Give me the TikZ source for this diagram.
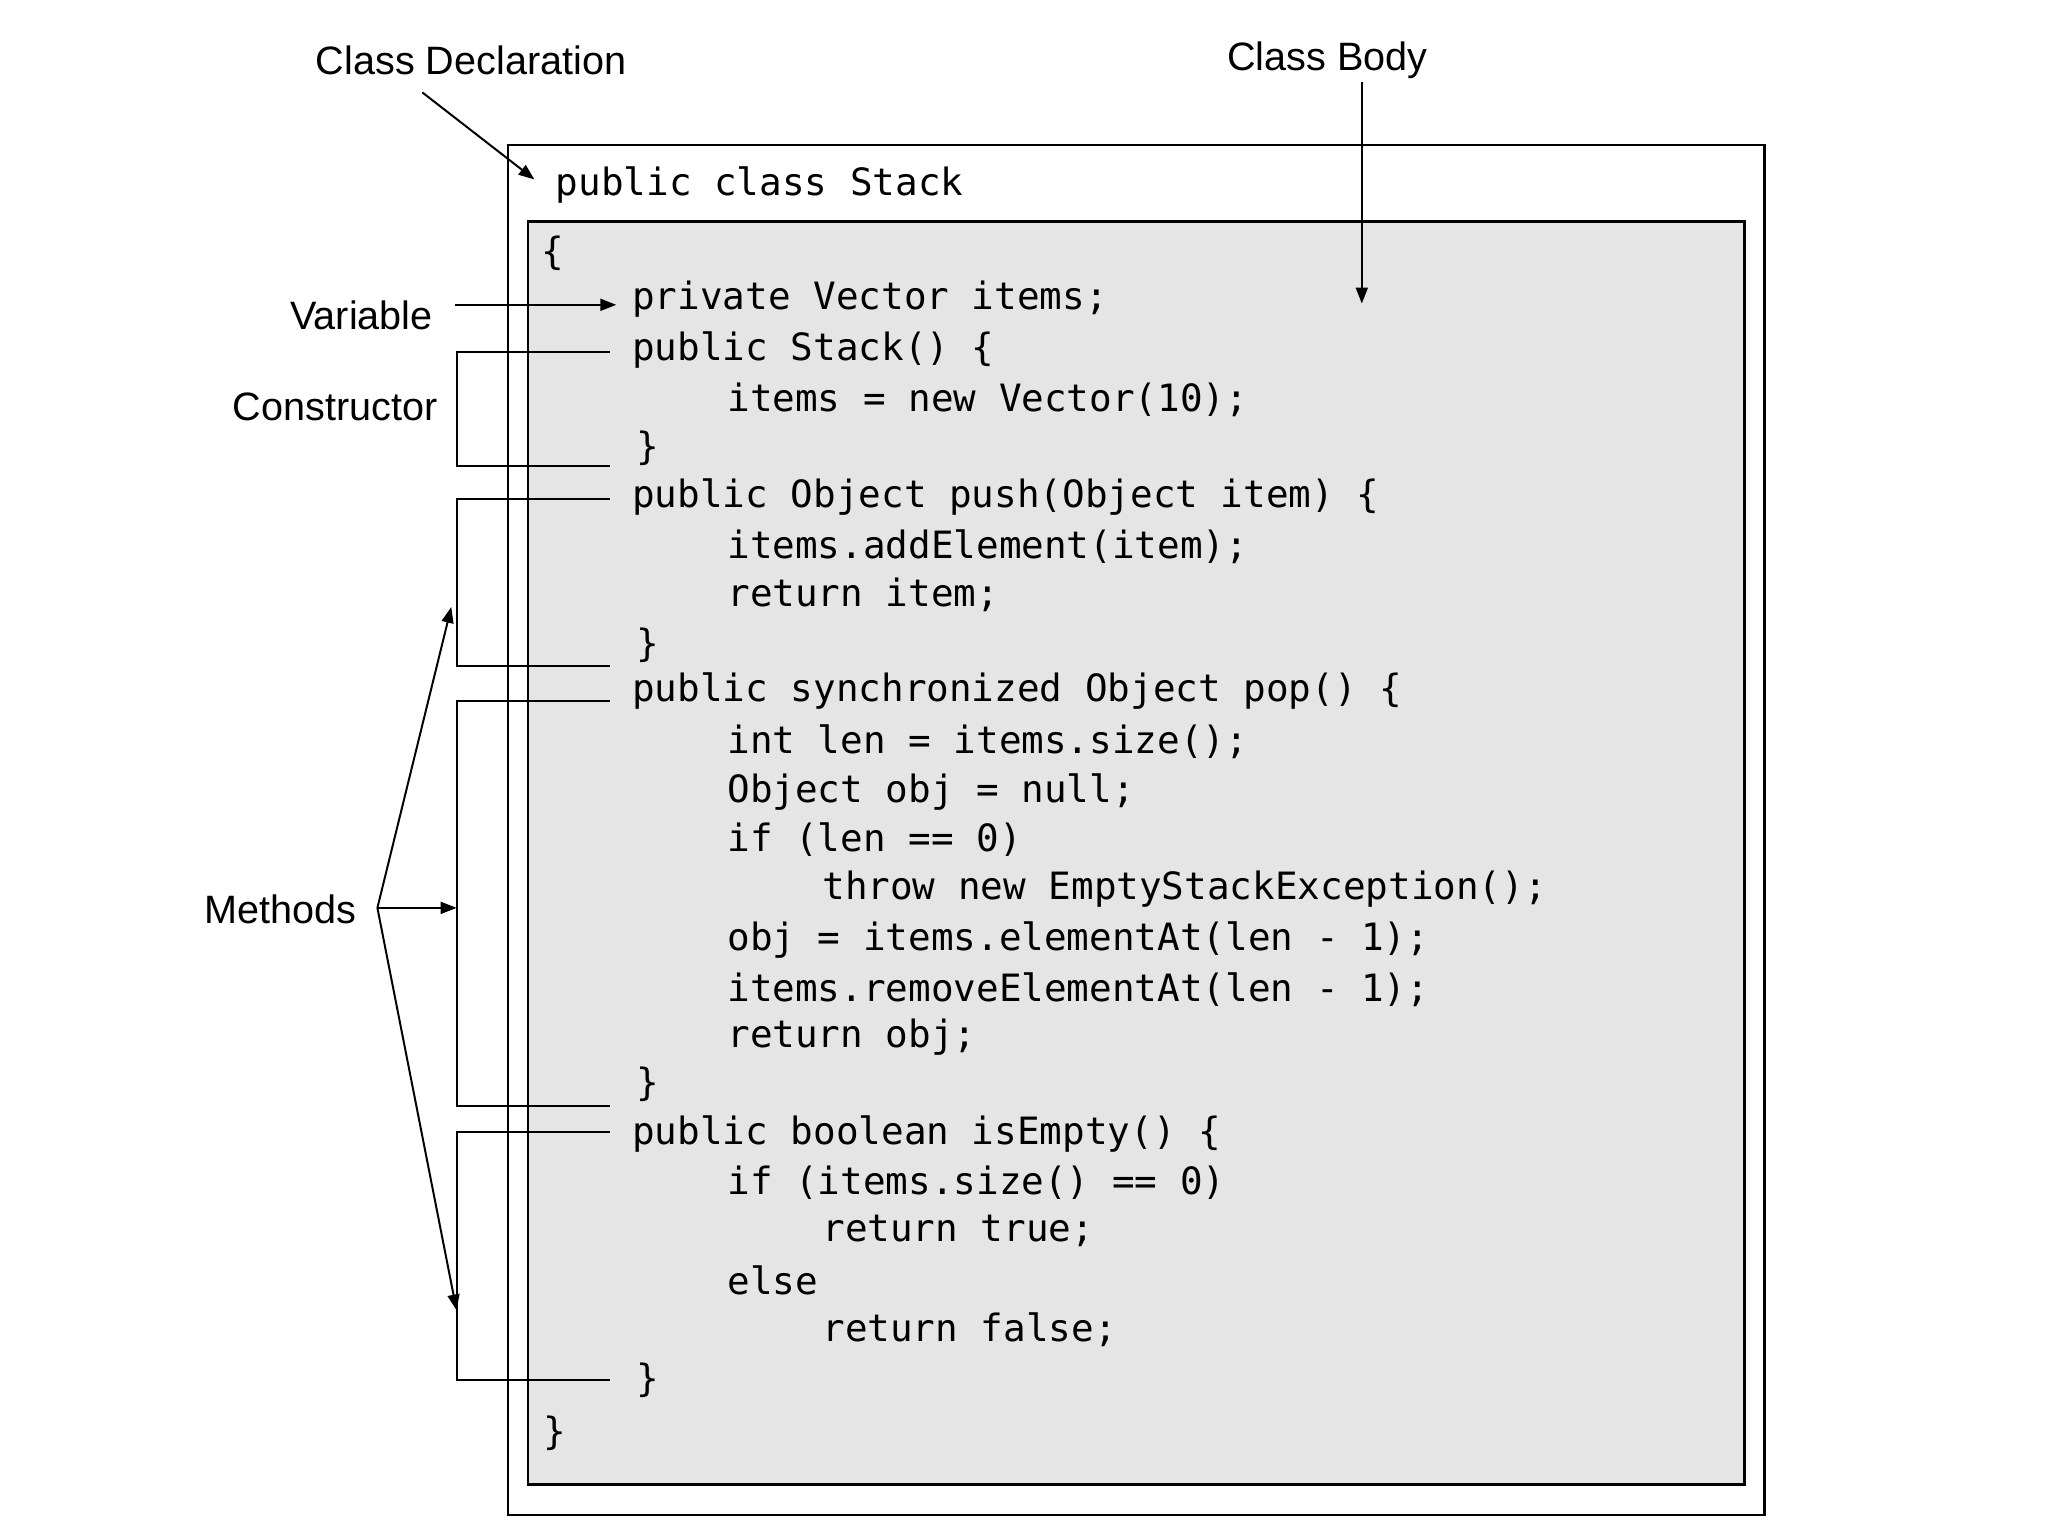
\documentclass[tikz,border=0pt]{standalone}
\usepackage{fontspec}
\setmainfont{Liberation Sans}
\newfontfamily\codefont{DejaVu Sans Mono}
\usetikzlibrary{arrows.meta}
\begin{document}
\begin{tikzpicture}[x=1pt,y=-1pt,
  lbl/.style={font=\fontsize{30}{34}\selectfont, inner sep=0pt},
  code/.style={font=\codefont\fontsize{28.5}{32}\selectfont, anchor=west, inner sep=0pt},
  con/.style={line width=1.5pt},
  arr/.style={line width=1.5pt,-{Triangle[length=12pt,width=9pt]}}]
\useasboundingbox (0,0) rectangle (1552,1164);
\draw[line width=2pt] (385,110) rectangle (1337,1148);
\draw[line width=2pt, fill=black!10] (400,168) rectangle (1322,1125);
\node[code] (decl) at (421,140) {public class Stack};
\node[code] at (410,192) {\{};
\node[code] (var) at (479,227) {private Vector items;};
\node[code] at (479,265) {public Stack() \{};
\node[code] at (551,303) {items = new Vector(10);};
\node[code] at (482,340) {\}};
\node[code] at (479,377) {public Object push(Object item) \{};
\node[code] at (551,414) {items.addElement(item);};
\node[code] at (551,451) {return item;};
\node[code] at (482,489) {\}};
\node[code] at (479,524) {public synchronized Object pop() \{};
\node[code] at (551,562) {int len = items.size();};
\node[code] at (551,600) {Object obj = null;};
\node[code] at (551,636) {if (len == 0)};
\node[code] at (623,674) {throw new EmptyStackException();};
\node[code] at (551,712) {obj = items.elementAt(len - 1);};
\node[code] at (551,750) {items.removeElementAt(len - 1);};
\node[code] at (551,786) {return obj;};
\node[code] at (482,822) {\}};
\node[code] at (479,859) {public boolean isEmpty() \{};
\node[code] at (551,896) {if (items.size() == 0)};
\node[code] at (623,933) {return true;};
\node[code] at (551,970) {else};
\node[code] at (623,1008) {return false;};
\node[code] at (482,1046) {\}};
\node[code] at (412,1086) {\}};

\node[lbl] (cd) at (357,46) {Class Declaration};
\node[lbl] (cb) at (1006,46) {Class Body};
\node[lbl] (vl) at (274,239) {Variable};
\node[lbl] (cl) at (254,308) {Constructor};
\node[lbl, anchor=east] (ml) at (270,689) {Methods};

\coordinate (cdS) at (320,70);
\coordinate (cdE) at (405,136);
\draw[arr] (cdS) -- (cdE);
\coordinate (cbS) at (1032,62);
\coordinate (cbE) at (1032,230);
\draw[arr] (cbS) -- (cbE);
\coordinate (vS) at (345,231);
\coordinate (vE) at (467,231);
\draw[arr] (vS) -- (vE);

\coordinate (c1) at (462,267); \coordinate (c2) at (462,353);
\draw[con] (c1) -- (346,267) -- (346,353) -- (c2);
\coordinate (p1) at (462,378); \coordinate (p2) at (462,505);
\draw[con] (p1) -- (346,378) -- (346,505) -- (p2);
\coordinate (q1) at (462,531); \coordinate (q2) at (462,838);
\draw[con] (q1) -- (346,531) -- (346,838) -- (q2);
\coordinate (e1) at (462,858); \coordinate (e2) at (462,1046);
\draw[con] (e1) -- (346,858) -- (346,1046) -- (e2);

\coordinate (mS) at (286,688);
\coordinate (m1) at (342,460);
\coordinate (m2) at (346,688);
\coordinate (m3) at (346,993);
\draw[arr] (mS) -- (m1);
\draw[arr] (mS) -- (m2);
\draw[arr] (mS) -- (m3);
\end{tikzpicture}
\end{document}
